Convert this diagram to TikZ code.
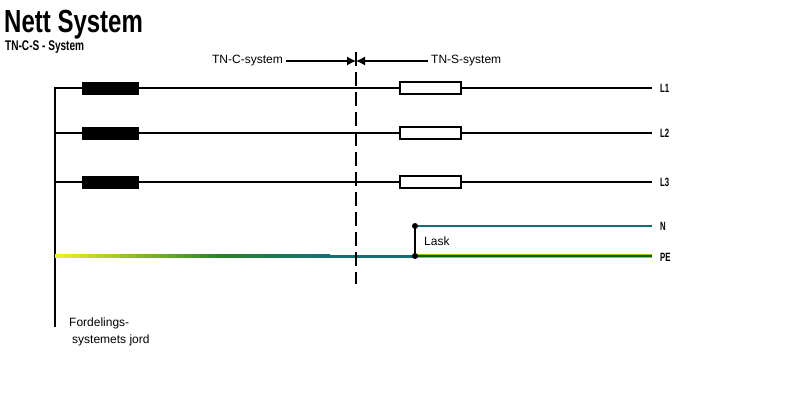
\documentclass[tikz,border=0pt]{standalone}
\usepackage{fontspec}
\setmainfont{Liberation Sans}
\usetikzlibrary{arrows.meta}
\begin{document}
\begin{tikzpicture}[x=1pt,y=-1pt,
  lbl/.style={font=\fontsize{12}{13}\selectfont\bfseries,anchor=west,inner sep=0pt},
  txt/.style={font=\fontsize{12}{17}\selectfont,inner sep=3pt},
  wire/.style={line width=1.5pt},
  blk/.style={fill=black},
  fuse/.style={draw,line width=1.5pt,fill=white}]
\useasboundingbox (0,0) rectangle (800,400);
\definecolor{teal1}{RGB}{20,110,120}
\definecolor{ygreen}{RGB}{170,190,20}
\definecolor{yel}{RGB}{240,240,40}
\definecolor{grn}{RGB}{40,130,40}
\node[anchor=west,inner sep=0pt,font=\fontsize{32}{34}\selectfont\bfseries] (title) at (4,25) {\scalebox{0.75}[1]{Nett System}};
\node[anchor=west,inner sep=0pt,font=\fontsize{14}{15}\selectfont\bfseries] (sub) at (5,47) {\scalebox{0.72}[1]{TN-C-S - System}};
% lines
\coordinate (top) at (55,88);
\coordinate (bot) at (55,327);
\draw[wire] (bot) -- (top) -- (652,88) coordinate (e1);
\draw[wire] (55,133) -- (652,133) coordinate (e2);
\draw[wire] (55,182) -- (652,182) coordinate (e3);
\foreach \y in {88,133,182}{
  \fill[blk] (82,\y-6.5) rectangle (139,\y+6.5);
  \draw[fuse] (400,\y-6) rectangle (461,\y+6);
}
\node[lbl] at (660,88) {\scalebox{0.65}[1]{L1}};
\node[lbl] at (660,133) {\scalebox{0.65}[1]{L2}};
\node[lbl] at (660,182) {\scalebox{0.65}[1]{L3}};
% PE gradient
\shade[left color=yel,right color=grn] (55,254.5) rectangle (220,257.5);
\shade[left color=grn,right color=teal1] (220,254.5) rectangle (330,257.5);
\fill[teal1] (330,254.5) rectangle (415,257.5);
\coordinate (nj) at (415,226);
\coordinate (pj) at (415,256);
\draw[line width=3.5pt,ygreen] (pj) -- (652,256) coordinate (epe);
\draw[line width=1.2pt,black!60!green] (pj) -- (652,256);
\draw[line width=2.5pt,teal1] (nj) -- (652,226) coordinate (en);
\draw[wire] (nj) -- (pj);
\fill (nj) circle (3); \fill (pj) circle (3);
\node[txt,anchor=west] (lask) at (421,241) {Lask};
\node[lbl] at (660,226) {\scalebox{0.65}[1]{N}};
\node[lbl] at (660,257) {\scalebox{0.65}[1]{PE}};
% dashed
\draw[line width=1.5pt,dash pattern=on 14pt off 6pt] (356,52) -- (356,284);
\coordinate (mid) at (356,61);
\node[txt,anchor=east] (tnc) at (286,61) {TN-C-system};
\node[txt,anchor=west] (tns) at (428,61) {TN-S-system};
\draw[line width=1.2pt,-{Latex[length=9pt,width=9pt]}] (tnc) -- (mid);
\draw[line width=1.2pt,-{Latex[length=9pt,width=9pt]}] (tns) -- (mid);
\node[txt,anchor=west,align=left,inner sep=1pt] (ford) at (68,332) {Fordelings-\\\hspace*{3pt}systemets jord};
\end{tikzpicture}
\end{document}
